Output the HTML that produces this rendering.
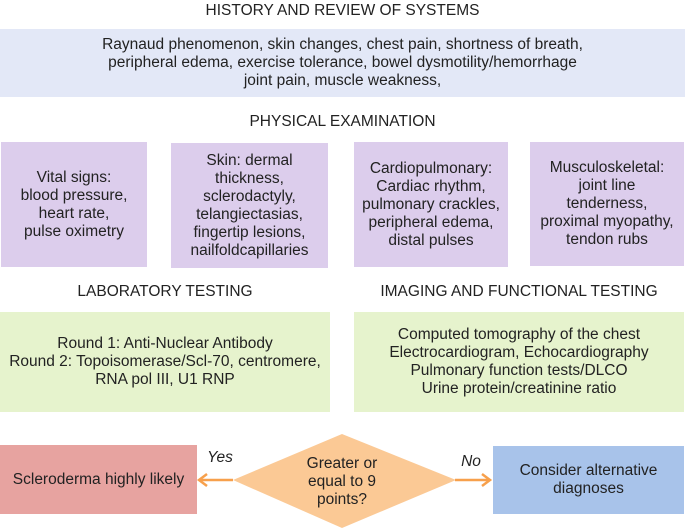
<!DOCTYPE html>
<html><head><style>
body{margin:0;width:685px;height:529px;background:#fff;font-family:"Liberation Sans",Arial,sans-serif;color:#222;position:relative;overflow:hidden}
.a{position:absolute}
.t{position:absolute;text-align:center;font-size:15.5px;line-height:18px}
.box{position:absolute;display:flex;align-items:center;justify-content:center;text-align:center;font-size:15.5px;line-height:18px}
.p{background:#dccdec}.g{background:#e6f3cd}
</style></head><body>
<div class="t" style="left:0;width:685px;top:2px">HISTORY AND REVIEW OF SYSTEMS</div>
<div class="box" style="left:0;top:29px;width:685px;height:68px;background:#e3e8f7">Raynaud phenomenon, skin changes, chest pain, shortness of breath,<br>peripheral edema, exercise tolerance, bowel dysmotility/hemorrhage<br>joint pain, muscle weakness,</div>
<div class="t" style="left:0;width:685px;top:113px">PHYSICAL EXAMINATION</div>
<div class="box p" style="left:1px;top:142px;width:146px;height:125px">Vital signs:<br>blood pressure,<br>heart rate,<br>pulse oximetry</div>
<div class="box p" style="left:171px;top:143px;width:157px;height:125px">Skin: dermal<br>thickness,<br>sclerodactyly,<br>telangiectasias,<br>fingertip lesions,<br>nailfoldcapillaries</div>
<div class="box p" style="left:354px;top:142px;width:154px;height:125px">Cardiopulmonary:<br>Cardiac rhythm,<br>pulmonary crackles,<br>peripheral edema,<br>distal pulses</div>
<div class="box p" style="left:530px;top:142px;width:154px;height:124px">Musculoskeletal:<br>joint line<br>tenderness,<br>proximal myopathy,<br>tendon rubs</div>
<div class="t" style="left:0;width:330px;top:283px">LABORATORY TESTING</div>
<div class="t" style="left:354px;width:330px;top:283px">IMAGING AND FUNCTIONAL TESTING</div>
<div class="box g" style="left:0;top:312px;width:330px;height:100px">Round 1: Anti-Nuclear Antibody<br>Round 2: Topoisomerase/Scl-70, centromere,<br>RNA pol III, U1 RNP</div>
<div class="box g" style="left:354px;top:312px;width:330px;height:100px">Computed tomography of the chest<br>Electrocardiogram, Echocardiography<br>Pulmonary function tests/DLCO<br>Urine protein/creatinine ratio</div>
<div class="box" style="left:0;top:445px;width:197px;height:69px;background:#e7a3a0">Scleroderma highly likely</div>
<div class="box" style="left:493px;top:446px;width:191px;height:68px;background:#a8c3ea">Consider alternative<br>diagnoses</div>
<svg class="a" style="left:0;top:0" width="685" height="529">
<polygon points="342,434 456,480 342,528 233,480" fill="#fbc995"/>
<g stroke="#f7a04c" stroke-width="2.5" fill="none">
<line x1="233" y1="480" x2="199" y2="480"/><polyline points="207,474 199,480 207,486"/>
<line x1="455" y1="480" x2="490" y2="480"/><polyline points="482,474 490,480 482,486"/>
</g>
</svg>
<div class="t" style="left:262px;width:160px;top:455px">Greater or<br>equal to 9<br>points?</div>
<div class="t" style="left:200px;width:40px;top:449px;font-style:italic">Yes</div>
<div class="t" style="left:451px;width:40px;top:453px;font-style:italic">No</div>
</body></html>
